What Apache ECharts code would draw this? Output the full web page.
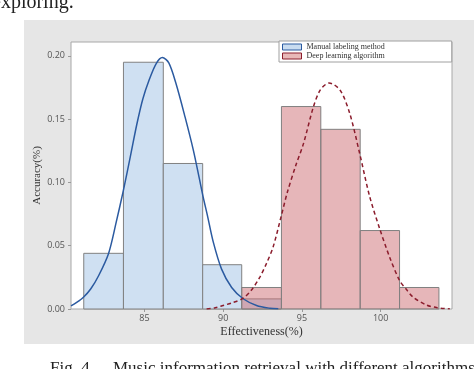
<!DOCTYPE html>
<html>
<head>
<meta charset="utf-8">
<script src="https://cdn.jsdelivr.net/npm/echarts@6/dist/echarts.min.js"></script>
<style>
html,body{margin:0;padding:0;background:#fff;}
#c{width:474px;height:369px;}
</style>
</head>
<body>
<div id="c"></div>
<script>
// Histogram bins (edges) and densities
var binEdges = [81.15, 83.67, 86.2, 88.7, 91.18, 93.7, 96.2, 98.7, 101.2, 103.7];
var manualHeights = [0.044, 0.195, 0.115, 0.035, 0.008];      // bins 0..4
var deepHeights = [0.017, 0.160, 0.142, 0.062, 0.017];        // bins 4..8
var manualStartBin = 0;
var deepStartBin = 4;

// Fitted curves
var manualCurveX = [80.34, 80.7, 81.13, 81.6, 82.1, 82.72, 83.2, 83.67, 84.1, 84.52, 84.9, 85.3, 85.75, 86.14, 86.55, 87.01, 87.58, 88.11, 88.49, 88.74, 89.0, 89.37, 89.9, 90.54, 91.27, 92.12, 92.96, 93.5];
var manualCurveY = [0.0025, 0.0052, 0.0093, 0.0160, 0.0265, 0.0437, 0.0680, 0.0940, 0.1200, 0.1460, 0.1660, 0.1810, 0.1940, 0.1987, 0.1945, 0.1780, 0.1518, 0.1254, 0.1030, 0.0880, 0.0740, 0.0530, 0.0315, 0.0170, 0.0081, 0.0028, 0.0006, 0.0001];
var deepCurveX = [88.95, 89.5, 90.0, 90.6, 91.27, 91.8, 92.33, 92.75, 93.17, 93.7, 94.07, 94.6, 95.1, 95.73, 96.16, 96.72, 97.43, 98.04, 98.67, 99.3, 99.94, 100.57, 101.2, 101.6, 102.05, 102.9, 103.6, 104.4];
var deepCurveY = [0.0000, 0.0010, 0.0028, 0.0050, 0.0085, 0.0150, 0.0252, 0.0360, 0.0489, 0.0740, 0.0920, 0.1130, 0.1307, 0.1597, 0.1729, 0.1786, 0.1729, 0.1544, 0.1228, 0.0890, 0.0634, 0.0410, 0.0225, 0.0160, 0.0095, 0.0032, 0.0010, 0.0001];

var xTicks = [85, 90, 95, 100];
var yTicks = [0, 0.05, 0.10, 0.15, 0.20];

var nameManual = 'Manual labeling method';
var nameDeep = 'Deep learning algorithm';

function bars(heights, start) {
  return heights.map(function (h, i) {
    return [binEdges[start + i], binEdges[start + i + 1], h];
  });
}
function pairs(xs, ys) { return xs.map(function (x, i) { return [x, ys[i]]; }); }

function barRender(fill) {
  return function (params, api) {
    var p0 = api.coord([api.value(0), api.value(2)]);
    var p1 = api.coord([api.value(1), 0]);
    return {
      type: 'rect',
      shape: { x: p0[0], y: p0[1], width: p1[0] - p0[0], height: p1[1] - p0[1] },
      style: { fill: fill, stroke: '#808080', lineWidth: 1 }
    };
  };
}

var serif = 'Liberation Serif';
var sans = 'Open Sans';

var chart = echarts.init(document.getElementById('c'));
chart.setOption({
  animation: false,
  graphic: [
    { type: 'rect', z: -100, shape: { x: 24, y: 20, width: 450, height: 324 }, style: { fill: '#e6e6e6' } },
    { type: 'text', z: 10, x: -8, y: -7, style: { text: 'exploring.', font: '20px "Liberation Serif"', fill: '#222' } },
    { type: 'text', z: 10, x: 50, y: 360, style: { text: 'Fig. 4', font: '17px "Liberation Serif"', fill: '#222' } },
    { type: 'text', z: 10, x: 113, y: 360, style: { text: 'Music information retrieval with different algorithms', font: '17px "Liberation Serif"', fill: '#222' } }
  ],
  grid: {
    left: 71, right: 22, top: 42, bottom: 60,
    show: true, backgroundColor: '#ffffff', borderColor: '#a8a8a8', borderWidth: 1
  },
  legend: {
    orient: 'vertical', left: 279, top: 41,
    backgroundColor: '#ffffff', borderColor: '#a0a0a0', borderWidth: 1,
    padding: [2, 67, 2, 3], itemGap: 1, itemWidth: 19, itemHeight: 6,
    textStyle: { fontFamily: serif, fontSize: 8, lineHeight: 8, color: '#333' },
    data: [
      { name: nameManual, icon: 'rect', itemStyle: { color: '#c9dcf0', borderColor: '#2b5aa0', borderWidth: 1 } },
      { name: nameDeep, icon: 'rect', itemStyle: { color: '#e8b8b8', borderColor: '#8b1c2c', borderWidth: 1 } }
    ]
  },
  xAxis: {
    type: 'value', min: 80.34, max: 104.53,
    name: 'Effectiveness(%)', nameLocation: 'middle', nameGap: 17, nameMoveOverlap: false,
    nameTextStyle: { fontFamily: serif, fontSize: 12, color: '#333' },
    axisLine: { show: false },
    splitLine: { show: false },
    axisTick: { show: true, length: 3, lineStyle: { color: '#999' }, customValues: xTicks },
    axisLabel: { customValues: xTicks, margin: 5, fontFamily: sans, fontSize: 9, color: '#555' }
  },
  yAxis: {
    type: 'value', min: 0, max: 0.211,
    name: 'Accuracy(%)', nameLocation: 'middle', nameGap: 28, nameMoveOverlap: false,
    nameTextStyle: { fontFamily: serif, fontSize: 11, color: '#333' },
    axisLine: { show: false },
    splitLine: { show: false },
    axisTick: { show: true, length: 3, lineStyle: { color: '#999' }, customValues: yTicks },
    axisLabel: { customValues: yTicks, margin: 6, fontFamily: sans, fontSize: 9, color: '#555',
      formatter: function (v) { return v.toFixed(2); } }
  },
  series: [
    { type: 'custom', name: nameManual, data: bars(manualHeights, manualStartBin), renderItem: barRender('#cfe0f2'), z: 1 },
    { type: 'custom', name: nameDeep, data: bars(deepHeights, deepStartBin), renderItem: barRender('rgba(205,110,115,0.5)'), z: 2 },
    { type: 'line', name: nameManual, data: pairs(manualCurveX, manualCurveY), smooth: 0.3, showSymbol: false, z: 3,
      lineStyle: { color: '#2b5aa0', width: 1.5 } },
    { type: 'line', name: nameDeep, data: pairs(deepCurveX, deepCurveY), smooth: 0.3, showSymbol: false, z: 4,
      lineStyle: { color: '#8b1c2c', width: 1.5, type: [4, 3] } }
  ]
});
</script>
</body>
</html>
